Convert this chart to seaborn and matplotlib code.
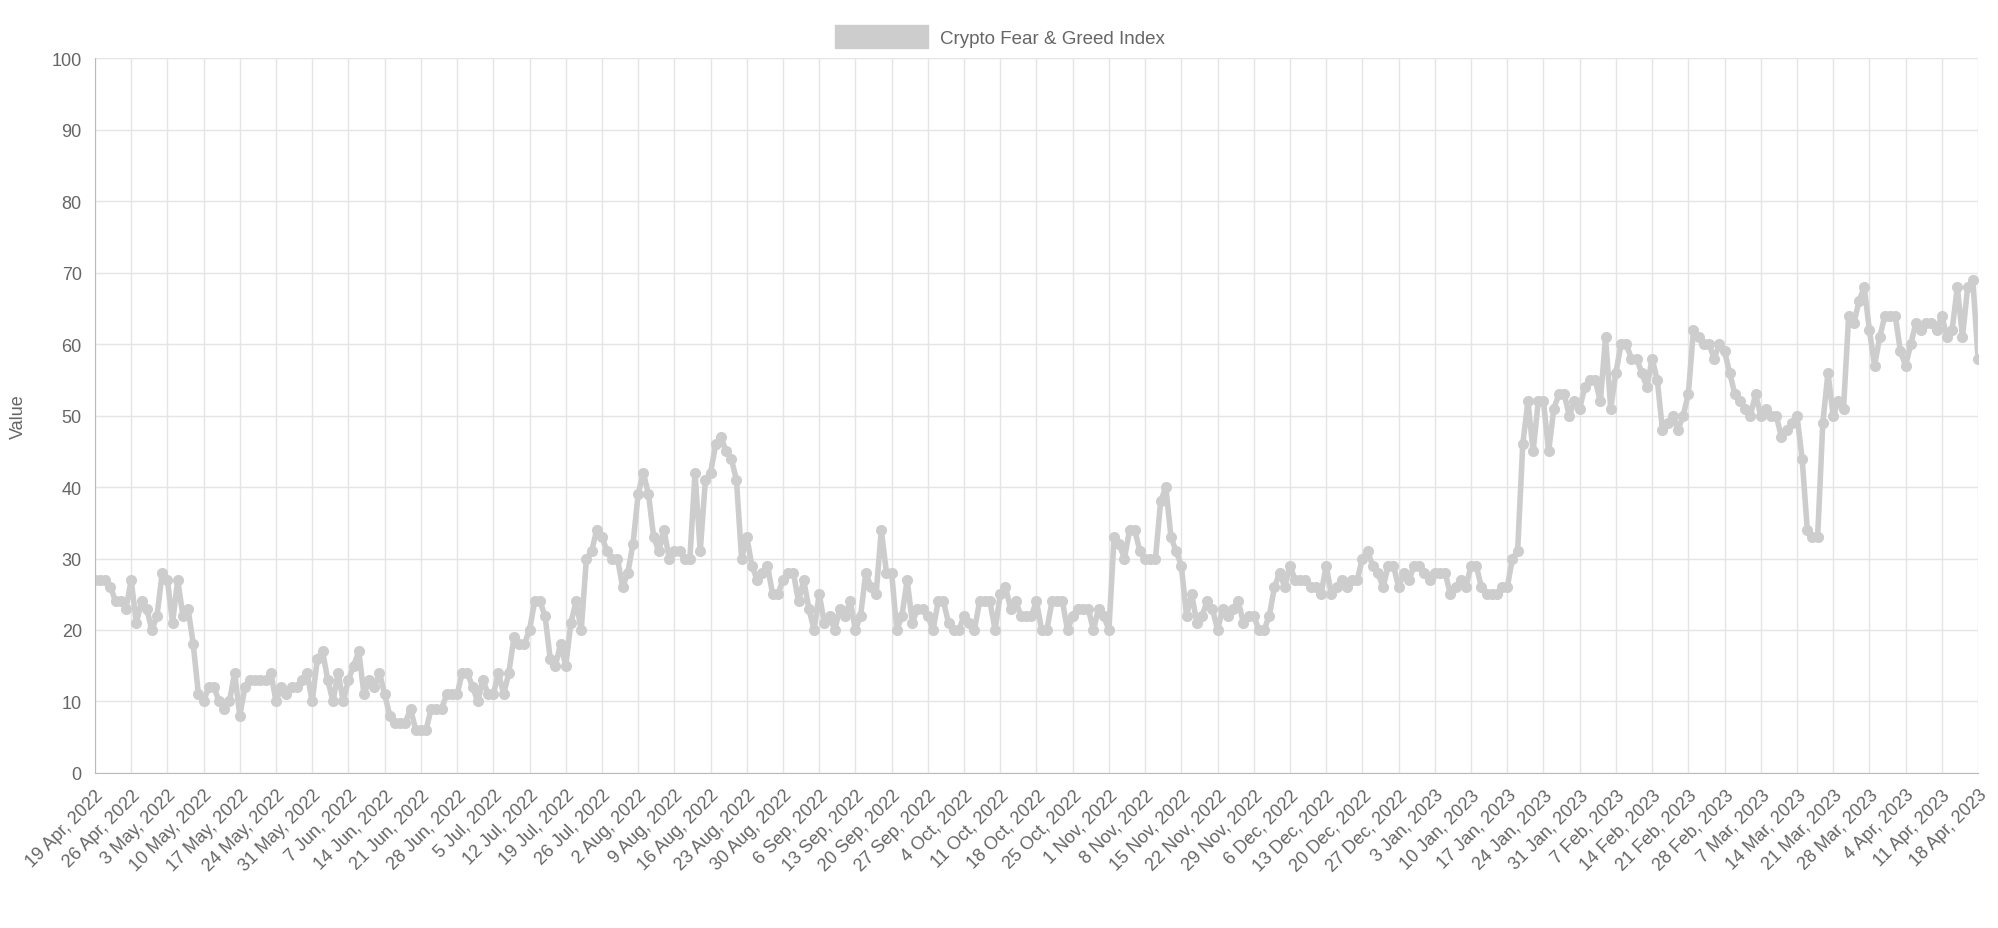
"""Crypto Fear & Greed Index, daily values Apr 2022 - Apr 2023."""

import matplotlib.pyplot as plt
import pandas as pd
import seaborn as sns
from matplotlib.patches import Patch

plt.switch_backend("Agg")

START_DATE = "2022-04-19"
SERIES_NAME = "Crypto Fear & Greed Index"

# daily index values, one row per week starting 19 Apr 2022
fgi_values = [
    27, 27, 27, 26, 24, 24, 23,
    27, 21, 24, 23, 20, 22, 28,
    27, 21, 27, 22, 23, 18, 11,
    10, 12, 12, 10, 9, 10, 14,
    8, 12, 13, 13, 13, 13, 14,
    10, 12, 11, 12, 12, 13, 14,
    10, 16, 17, 13, 10, 14, 10,
    13, 15, 17, 11, 13, 12, 14,
    11, 8, 7, 7, 7, 9, 6,
    6, 6, 9, 9, 9, 11, 11,
    11, 14, 14, 12, 10, 13, 11,
    11, 14, 11, 14, 19, 18, 18,
    20, 24, 24, 22, 16, 15, 18,
    15, 21, 24, 20, 30, 31, 34,
    33, 31, 30, 30, 26, 28, 32,
    39, 42, 39, 33, 31, 34, 30,
    31, 31, 30, 30, 42, 31, 41,
    42, 46, 47, 45, 44, 41, 30,
    33, 29, 27, 28, 29, 25, 25,
    27, 28, 28, 24, 27, 23, 20,
    25, 21, 22, 20, 23, 22, 24,
    20, 22, 28, 26, 25, 34, 28,
    28, 20, 22, 27, 21, 23, 23,
    22, 20, 24, 24, 21, 20, 20,
    22, 21, 20, 24, 24, 24, 20,
    25, 26, 23, 24, 22, 22, 22,
    24, 20, 20, 24, 24, 24, 20,
    22, 23, 23, 23, 20, 23, 22,
    20, 33, 32, 30, 34, 34, 31,
    30, 30, 30, 38, 40, 33, 31,
    29, 22, 25, 21, 22, 24, 23,
    20, 23, 22, 23, 24, 21, 22,
    22, 20, 20, 22, 26, 28, 26,
    29, 27, 27, 27, 26, 26, 25,
    29, 25, 26, 27, 26, 27, 27,
    30, 31, 29, 28, 26, 29, 29,
    26, 28, 27, 29, 29, 28, 27,
    28, 28, 28, 25, 26, 27, 26,
    29, 29, 26, 25, 25, 25, 26,
    26, 30, 31, 46, 52, 45, 52,
    52, 45, 51, 53, 53, 50, 52,
    51, 54, 55, 55, 52, 61, 51,
    56, 60, 60, 58, 58, 56, 54,
    58, 55, 48, 49, 50, 48, 50,
    53, 62, 61, 60, 60, 58, 60,
    59, 56, 53, 52, 51, 50, 53,
    50, 51, 50, 50, 47, 48, 49,
    50, 44, 34, 33, 33, 49, 56,
    50, 52, 51, 64, 63, 66, 68,
    62, 57, 61, 64, 64, 64, 59,
    57, 60, 63, 62, 63, 63, 62,
    64, 61, 62, 68, 61, 68, 69,
    58,
]

dates = pd.date_range(START_DATE, periods=len(fgi_values), freq="D")
tick_dates = dates[::7]
tick_labels = [f"{d.day} {d.strftime('%b')}, {d.year}" for d in tick_dates]

LINE_COLOR = "#cdcdcd"
TEXT_COLOR = "#666666"

sns.set_style("white")
plt.rcParams["font.family"] = ["Liberation Sans", "DejaVu Sans"]

df = pd.DataFrame({"date": dates, "value": fgi_values})

fig = plt.figure(figsize=(19.99, 9.29), dpi=100)
ax = fig.add_axes([0.0475, 0.167, 0.942, 0.769])

sns.lineplot(
    data=df, x="date", y="value", ax=ax, color=LINE_COLOR, linewidth=4,
    marker="o", markersize=8, markeredgewidth=0, markerfacecolor=LINE_COLOR,
)

ax.set_xlim(dates[0], dates[-1])
ax.set_ylim(0, 100)
ax.set_yticks(range(0, 101, 10))
ax.set_xticks(tick_dates)
ax.set_xticklabels(tick_labels, rotation=45, ha="right", rotation_mode="anchor")
ax.tick_params(colors=TEXT_COLOR, labelsize=13, length=6, color="#e0e0e0")
ax.grid(True, color="#e5e5e5", linewidth=1)
ax.set_xlabel("")
ax.set_ylabel("Value", color=TEXT_COLOR, fontsize=13)
ax.yaxis.set_label_coords(-0.036, 0.5)
for side in ("top", "right"):
    ax.spines[side].set_visible(False)
for side in ("left", "bottom"):
    ax.spines[side].set_color("#bbbbbb")

handle = Patch(facecolor=LINE_COLOR, edgecolor=LINE_COLOR)
fig.legend(
    [handle], [SERIES_NAME], loc="upper center", bbox_to_anchor=(0.5, 0.99),
    frameon=False, fontsize=13.5, labelcolor=TEXT_COLOR,
    handlelength=5.0, handleheight=1.5, handletextpad=0.6,
)

fig.savefig("out.png", dpi=100)
